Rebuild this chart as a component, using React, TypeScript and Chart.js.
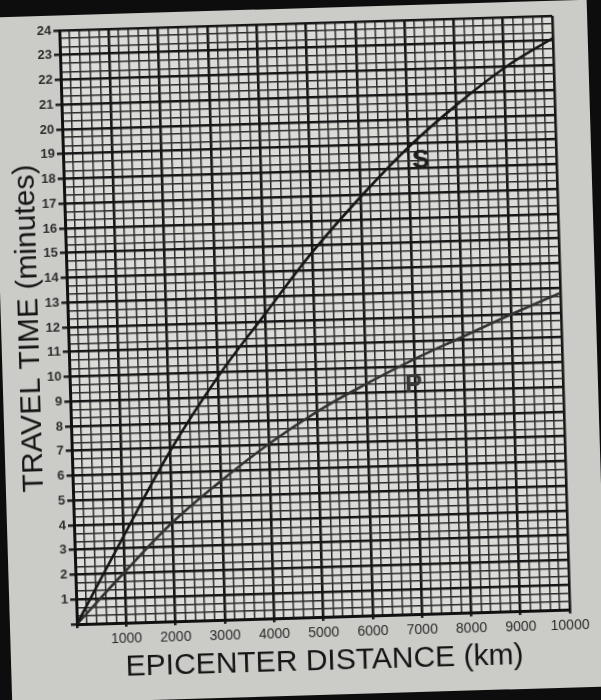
import React, { useEffect, useRef } from 'react';
import { Chart, registerables } from 'chart.js';

Chart.register(...registerables);

// ---- data ----
const DISTANCE_KM = [0, 1000, 2000, 3000, 4000, 5000, 6000, 7000, 8000, 9000, 10000];
const S_WAVE_MIN = [0, 3.5, 6.9, 9.8, 12.3, 14.75, 16.9, 18.85, 20.5, 21.95, 23.1];
const P_WAVE_MIN = [0, 2.05, 4.0, 5.6, 7.05, 8.3, 9.35, 10.3, 11.15, 12.0, 12.8];

const X_MAX = 10000;
const X_MINOR_STEP = 200;
const X_MAJOR_STEP = 1000;
const Y_MAX = 24;
const Y_MINOR_PER_MIN = 3;

const X_TICKS = Array.from({ length: X_MAX / X_MINOR_STEP + 1 }, (_, i) => i * X_MINOR_STEP);
const Y_TICKS = Array.from({ length: Y_MAX * Y_MINOR_PER_MIN + 1 }, (_, i) => i / Y_MINOR_PER_MIN);

const CURVE_LABELS = [
  { text: 'S', x: 7250, y: 18.3, color: '#1c1c1c' },
  { text: 'P', x: 6970, y: 9.25, color: '#3a3a3a' },
];

const FONT = '"Liberation Sans", Arial, sans-serif';

const isXMajor = (v: number) => Math.abs(v / X_MAJOR_STEP - Math.round(v / X_MAJOR_STEP)) < 1e-6;
const isYMajor = (v: number) => Math.abs(v - Math.round(v)) < 1e-6;

const areaBg = {
  id: 'areaBg',
  beforeDraw(chart: any) {
    const { ctx, chartArea } = chart;
    ctx.save();
    ctx.fillStyle = '#dcdcd9';
    ctx.fillRect(chartArea.left, chartArea.top, chartArea.right - chartArea.left, chartArea.bottom - chartArea.top);
    ctx.restore();
  },
};

const curveLabels = {
  id: 'curveLabels',
  afterDatasetsDraw(chart: any) {
    const { ctx, scales } = chart;
    ctx.save();
    ctx.font = `bold 26px ${FONT}`;
    ctx.textAlign = 'center';
    ctx.textBaseline = 'middle';
    CURVE_LABELS.forEach((l) => {
      ctx.fillStyle = l.color;
      ctx.fillText(l.text, scales.x.getPixelForValue(l.x), scales.y.getPixelForValue(l.y));
    });
    ctx.restore();
  },
};

export default function App() {
  const canvasRef = useRef<HTMLCanvasElement | null>(null);

  useEffect(() => {
    if (!canvasRef.current) return;
    const chart = new Chart(canvasRef.current, {
      type: 'line',
      data: {
        datasets: [
          {
            label: 'S',
            data: DISTANCE_KM.map((d, i) => ({ x: d, y: S_WAVE_MIN[i] })),
            borderColor: '#161616',
            borderWidth: 2.6,
            pointRadius: 0,
            tension: 0.4,
            fill: false,
          },
          {
            label: 'P',
            data: DISTANCE_KM.map((d, i) => ({ x: d, y: P_WAVE_MIN[i] })),
            borderColor: '#333333',
            borderWidth: 2.6,
            pointRadius: 0,
            tension: 0.4,
            fill: false,
          },
        ],
      },
      options: {
        animation: false,
        responsive: false,
        devicePixelRatio: 1,
        layout: { padding: { left: 0, right: 35, top: 15, bottom: 0 } },
        plugins: { legend: { display: false }, tooltip: { enabled: false } },
        scales: {
          x: {
            type: 'linear',
            min: 0,
            max: X_MAX,
            afterBuildTicks: (scale: any) => {
              scale.ticks = X_TICKS.map((v) => ({ value: v }));
            },
            afterFit: (scale: any) => {
              scale.height = 78;
            },
            ticks: {
              autoSkip: false,
              maxRotation: 0,
              minRotation: 0,
              padding: 4,
              color: '#2a2a2a',
              font: { family: FONT, size: 14 },
              callback: (v: any) => (isXMajor(Number(v)) && Number(v) > 0 ? String(Math.round(Number(v))) : ''),
            },
            grid: {
              color: (c: any) => (c.tick && isXMajor(c.tick.value) ? '#161616' : '#2c2c2c'),
              lineWidth: (c: any) => (c.tick && isXMajor(c.tick.value) ? 2.6 : 1.5),
              tickColor: (c: any) => (c.tick && isXMajor(c.tick.value) ? '#222' : 'rgba(0,0,0,0)'),
              tickLength: 4,
            },
            border: { display: true, color: '#111', width: 3 },
            title: {
              display: true,
              text: 'EPICENTER DISTANCE (km)',
              color: '#151515',
              font: { family: FONT, size: 30 },
              padding: { top: 0, bottom: 15 },
            },
          },
          y: {
            type: 'linear',
            min: 0,
            max: Y_MAX,
            afterBuildTicks: (scale: any) => {
              scale.ticks = Y_TICKS.map((v) => ({ value: v }));
            },
            afterFit: (scale: any) => {
              scale.width = 67;
            },
            ticks: {
              autoSkip: false,
              padding: 2,
              color: '#2e2e2e',
              font: { family: FONT, size: 13, weight: 'bold' },
              callback: (v: any) => (isYMajor(Number(v)) && Number(v) > 0 ? String(Math.round(Number(v))) : ''),
            },
            grid: {
              color: (c: any) => (c.tick && isYMajor(c.tick.value) ? '#161616' : '#2c2c2c'),
              lineWidth: (c: any) => (c.tick && isYMajor(c.tick.value) ? 2.6 : 1.5),
              tickColor: (c: any) => (c.tick && isYMajor(c.tick.value) ? '#222' : 'rgba(0,0,0,0)'),
              tickLength: 6,
            },
            border: { display: true, color: '#111', width: 3 },
            title: {
              display: true,
              text: 'TRAVEL TIME (minutes)',
              color: '#151515',
              font: { family: FONT, size: 30 },
              padding: { top: 11, bottom: 0 },
            },
          },
        },
      },
      plugins: [areaBg, curveLabels],
    } as any);
    return () => chart.destroy();
  }, []);

  return (
    <div style={{ position: 'fixed', left: 0, top: 0, width: 601, height: 700, background: '#0d0d0d', overflow: 'hidden' }}>
      <div
        style={{
          position: 'absolute',
          left: 1,
          top: 8,
          width: 595,
          height: 687,
          background: '#cbcbc7',
          transform: 'rotate(-1.7deg)',
          transformOrigin: '313.5px 312px',
        }}
      >
        <canvas ref={canvasRef} width={595} height={687} style={{ display: 'block' }} />
      </div>
    </div>
  );
}
